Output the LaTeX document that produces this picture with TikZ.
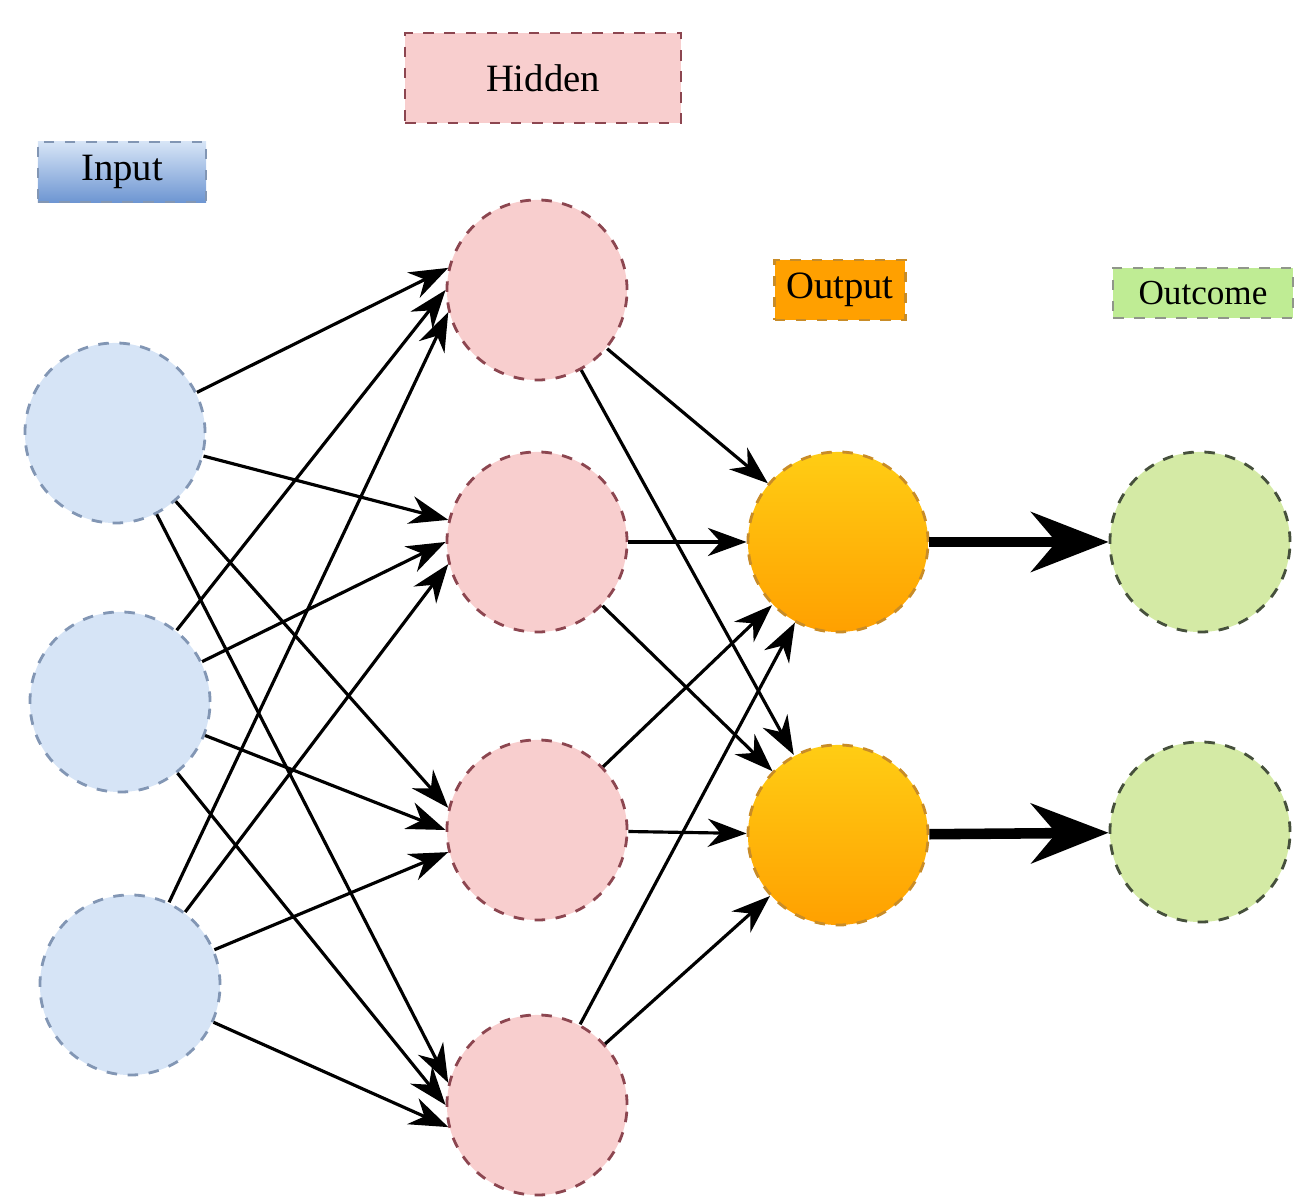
\documentclass[tikz,border=0pt]{standalone}
\usepackage{fontspec}
\setmainfont{Liberation Serif}
\usetikzlibrary{arrows.meta}
\definecolor{inF}{RGB}{214,228,246}
\definecolor{inD}{RGB}{130,150,180}
\definecolor{hiF}{RGB}{248,206,206}
\definecolor{hiD}{RGB}{140,70,80}
\definecolor{ouA}{RGB}{255,205,20}
\definecolor{ouB}{RGB}{255,160,0}
\definecolor{ouD}{RGB}{200,140,40}
\definecolor{ocF}{RGB}{212,234,165}
\definecolor{ocD}{RGB}{70,80,60}
\begin{document}
\begin{tikzpicture}[x=0.01cm,y=-0.01cm,
  neuron/.style={circle,minimum size=1.8cm,inner sep=0pt,dashed,line width=0.8pt},
  innode/.style={neuron,draw=inD,fill=inF},
  hidnode/.style={neuron,draw=hiD,fill=hiF},
  outnode/.style={neuron,draw=ouD,top color=ouA,bottom color=ouB},
  ocnode/.style={neuron,draw=ocD,fill=ocF},
  conn/.style={-{Stealth[length=11pt,width=8pt]},line width=0.9pt},
  big/.style={-{Stealth[length=22pt,width=17pt]},line width=3pt},
  lab/.style={dashed,line width=0.6pt,font=\fontsize{11}{13}\selectfont}]
\useasboundingbox (0,0) rectangle (1314,1198);
\node[lab,draw=inD,top color=inF,bottom color={rgb,255:red,110;green,150;blue,210},minimum width=1.68cm,minimum height=0.6cm] (li) at (122,172) {Input};
\node[lab,draw=hiD,fill=hiF,minimum width=2.75cm,minimum height=0.9cm] (lh) at (543,78) {Hidden};
\node[lab,draw=ouD,fill=ouB,minimum width=1.2cm,minimum height=0.6cm] (lo) at (840,290) {Output};
\node[lab,draw=ocD!60,fill=ocF!90!green,minimum width=1.8cm,minimum height=0.5cm,font=\fontsize{10}{12}\selectfont] (lc) at (1203,293) {Outcome};
\node[innode] (i1) at (115,433) {};
\node[innode] (i2) at (120,702) {};
\node[innode] (i3) at (130,985) {};
\node[hidnode] (h1) at (537,290) {};
\node[hidnode] (h2) at (537,542) {};
\node[hidnode] (h3) at (537,830) {};
\node[hidnode] (h4) at (537,1105) {};
\node[outnode] (o1) at (838,542) {};
\node[outnode] (o2) at (838,835) {};
\node[ocnode] (c1) at (1200,542) {};
\node[ocnode] (c2) at (1200,832) {};
\foreach \i/\a in {i1/166,i2/180,i3/194}{\foreach \h in {h1,h2,h3,h4}{\draw[conn] (\i) -- (\h.\a);}}
\foreach \h in {h1,h2,h3,h4}{\foreach \o in {o1,o2}{\draw[conn] (\h) -- (\o);}}
\draw[big] (o1) -- (c1);
\draw[big] (o2) -- (c2);
\end{tikzpicture}
\end{document}
